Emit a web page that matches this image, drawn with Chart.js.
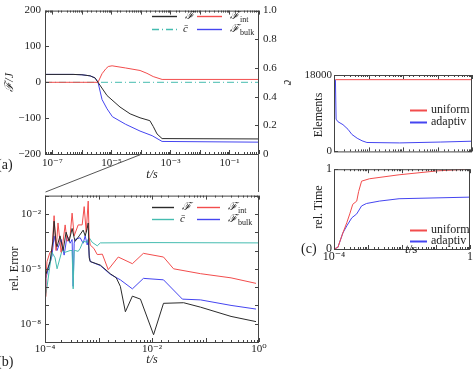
<!DOCTYPE html>
<html>
<head>
<meta charset="utf-8">
<script src="https://cdn.jsdelivr.net/npm/chart.js@4.4.1/dist/chart.umd.min.js"></script>
<style>
body { margin: 0; background: #fff; width: 474px; height: 369px; position: relative; overflow: hidden; font-family: 'Liberation Serif', 'DejaVu Serif', serif; color: #222; }
canvas { position: absolute; }
.lbl { position: absolute; font-size: 14px; white-space: nowrap; }
.rot { position: absolute; width: 70px; height: 14px; line-height: 14px; text-align: center; font-size: 12px; transform: rotate(-90deg); }
svg { position: absolute; left: 0; top: 0; pointer-events: none; }
</style>
</head>
<body>
<canvas id="ca" width="296" height="185" style="left:0;top:0"></canvas>
<canvas id="cb" width="290" height="184" style="left:0;top:185px"></canvas>
<canvas id="cc1" width="184" height="100" style="left:290px;top:60px"></canvas>
<canvas id="cc2" width="184" height="109" style="left:290px;top:160px"></canvas>

<div class="lbl" style="left:-3px;top:157px">(a)</div>
<div class="lbl" style="left:-3px;top:354px">(b)</div>
<div class="lbl" style="left:301px;top:241px">(c)</div>
<div class="lbl" style="left:405px;top:241px;font-size:13px"><i>t</i>/s</div>
<div class="rot" style="left:283px;top:108px">Elements</div>
<div class="rot" style="left:283px;top:200px">rel. Time</div>

<svg width="474" height="369">
  <line x1="142" y1="154" x2="45.5" y2="192" stroke="#555" stroke-width="1"/>
  <line x1="258.5" y1="154" x2="258.5" y2="192" stroke="#555" stroke-width="1"/>
</svg>

<script>
// (a) free energy over time
var aTimeF = [5.6e-8, 5e-7, 1e-6, 1.9e-6, 2.8e-6, 3.5e-6, 7.1e-6, 1.95e-5, 4.3e-5, 9.3e-5, 2.0e-4, 2.6e-4, 3.5e-4, 5.2e-4, 1];
var aF = [22, 22, 21, 18, 12, 0, -37, -69, -88, -99, -107, -123, -144, -157, -158];
var aTimeInt = [5.6e-8, 3.5e-6, 4.8e-6, 6.5e-6, 7.8e-6, 1.05e-5, 3e-5, 9.3e-5, 1.6e-4, 2.6e-4, 5.2e-4, 1];
var aFint = [0, 0, 24, 38, 44, 46, 40, 33, 25, 16, 8, 8];
var aTimeBulk = [5.6e-8, 5e-7, 1e-6, 1.9e-6, 2.8e-6, 3.5e-6, 4.8e-6, 7.1e-6, 1.08e-5, 3.0e-5, 9.3e-5, 2.4e-4, 5.2e-4, 1];
var aFbulk = [22, 22, 21, 18, 12, 0, -48, -74, -96, -117, -136, -149, -165, -167];
var aTimeC = [5.6e-8, 1];
var aC = [0.5, 0.5];
var aTickExp = [-7, -5, -3, -1];

// (b) relative errors
var bTimeF = [1.04e-4, 1.24e-4, 1.40e-4, 1.48e-4, 1.61e-4, 1.68e-4, 1.91e-4, 2.18e-4, 2.48e-4, 2.82e-4, 3.21e-4, 3.51e-4, 3.66e-4, 4.35e-4, 5.17e-4, 5.64e-4, 6.15e-4, 6.42e-4, 6.70e-4, 7.0e-4, 1.08e-3, 1.66e-3, 2.15e-3, 2.56e-3, 3.18e-3, 4.30e-3, 6.08e-3, 1.07e-2, 1.64e-2, 3.9e-2, 8.1e-2, 0.30, 0.88];
var bF = [5e-6, 2.5e-5, 3e-4, 4e-3, 2.5e-4, 1.6e-4, 6.3e-4, 1e-4, 1e-3, 3.2e-4, 1.6e-3, 5e-4, 3.2e-4, 6.3e-4, 1.3e-3, 6.3e-4, 1.6e-3, 3.2e-3, 4e-5, 2.5e-5, 1.6e-5, 5.4e-6, 3.2e-6, 1.1e-6, 4.5e-8, 3.2e-7, 2.2e-7, 2.5e-9, 1.3e-7, 1.4e-7, 8e-8, 2.5e-8, 1.3e-8];
var bTimeInt = [1.0e-4, 1.04e-4, 1.09e-4, 1.24e-4, 1.35e-4, 1.48e-4, 1.61e-4, 1.75e-4, 2.0e-4, 2.18e-4, 2.38e-4, 2.59e-4, 2.95e-4, 3.21e-4, 3.51e-4, 4.17e-4, 4.95e-4, 5.40e-4, 5.89e-4, 6.42e-4, 6.70e-4, 7.0e-4, 8.2e-4, 9.48e-4, 1.18e-3, 1.52e-3, 2.34e-3, 4.3e-3, 6.9e-3, 1.64e-2, 2.53e-2, 8.1e-2, 0.30, 0.88];
var bFint = [3e-7, 3e-6, 2.5e-5, 8e-5, 1e-4, 8e-3, 1e-4, 3.2e-3, 8e-5, 3.2e-4, 2.5e-3, 3.2e-4, 6.3e-4, 1.1e-2, 6.3e-4, 2.5e-3, 2.5e-3, 2.5e-2, 1e-3, 5e-2, 5e-4, 2e-4, 1.3e-4, 6e-5, 6.3e-5, 9e-6, 4.4e-5, 1.9e-5, 7e-5, 4.4e-5, 1e-5, 5.4e-6, 3.2e-6, 1.6e-6];
var bTimeBulk = [1.0e-4, 1.04e-4, 1.15e-4, 1.35e-4, 1.48e-4, 1.68e-4, 2.0e-4, 2.28e-4, 2.59e-4, 2.95e-4, 3.21e-4, 3.36e-4, 3.51e-4, 3.66e-4, 4.54e-4, 5.17e-4, 5.64e-4, 6.15e-4, 6.42e-4, 6.70e-4, 7.0e-4, 1.08e-3, 1.66e-3, 2.56e-3, 4.3e-3, 6.92e-3, 1.64e-2, 3.7e-2, 8.1e-2, 0.30, 0.88];
var bFbulk = [5e-7, 3e-6, 1e-5, 5e-5, 6.3e-4, 1e-4, 4e-4, 5.6e-5, 6.3e-4, 2.5e-4, 4e-4, 1.1e-6, 2.5e-4, 4e-4, 5e-4, 2.5e-4, 6.3e-4, 2e-4, 4e-4, 5.6e-5, 2.5e-5, 1.5e-5, 5e-6, 2.5e-6, 8e-7, 3e-6, 2.5e-6, 2.2e-7, 2e-7, 1e-7, 6.3e-8];
var bTimeC = [1.0e-4, 1.09e-4, 1.24e-4, 1.35e-4, 1.54e-4, 1.68e-4, 2.08e-4, 2.38e-4, 2.95e-4, 3.21e-4, 3.36e-4, 3.51e-4, 3.66e-4, 4.17e-4, 4.54e-4, 5.17e-4, 6.15e-4, 6.70e-4, 7.63e-4, 9.48e-4, 1.08e-3, 1e-2, 1];
var bC = [2e-7, 1e-6, 1.6e-5, 8e-5, 4e-5, 1e-5, 1e-4, 8e-5, 1e-4, 1e-4, 8e-7, 1e-4, 1e-4, 9e-5, 1.3e-4, 3.2e-4, 2.8e-4, 5e-4, 2.8e-4, 1.8e-4, 2.6e-4, 2.7e-4, 2.6e-4];
var bTickExpX = [-4, -2, 0];
var bTickExpY = [-2, -5, -8];

// (c) elements and relative computing time
var cTimeElemUni = [1.1e-4, 1];
var cElemUni = [16900, 16900];
var cTimeElemAd = [1.1e-4, 1.15e-4, 1.3e-4, 1.82e-4, 2.55e-4, 3.3e-4, 4.7e-4, 6.5e-4, 9e-4, 8e-3, 0.12, 1];
var cElemAd = [16900, 7600, 7000, 6300, 5200, 4000, 3100, 2500, 2100, 2000, 2200, 2400];
var cTimeRelUni = [1e-4, 1.3e-4, 1.82e-4, 2.38e-4, 2.91e-4, 3.56e-4, 4.66e-4, 5.3e-4, 6.48e-4, 1.1e-3, 8.2e-3, 0.117, 0.87, 1];
var cRelUni = [0, 0.02, 0.2, 0.33, 0.44, 0.56, 0.6, 0.72, 0.85, 0.88, 0.93, 0.98, 1.0, 1.0];
var cTimeRelAd = [1e-4, 1.3e-4, 1.82e-4, 2.38e-4, 3.33e-4, 4.66e-4, 6.48e-4, 9e-4, 2.15e-3, 8.2e-3, 1];
var cRelAd = [0, 0.02, 0.2, 0.29, 0.39, 0.44, 0.54, 0.57, 0.6, 0.63, 0.65];
var cTickExp = [-4, 0];

var SERIF = "'Liberation Serif', 'DejaVu Serif', serif";
Chart.defaults.font.family = SERIF;
Chart.defaults.font.size = 11;
Chart.defaults.color = '#222';

var BLACK = '#2b2b2b', RED = '#f24d4d', BLUE = '#4545f0', TEAL = '#45bcb0';

function pts(xs, ys) {
  return xs.map(function (x, i) { return { x: x, y: ys[i] }; });
}

var SUP = { '-': '\u207b', '0': '\u2070', '1': '\u00b9', '2': '\u00b2', '3': '\u00b3', '4': '\u2074', '5': '\u2075', '6': '\u2076', '7': '\u2077', '8': '\u2078', '9': '\u2079' };
function isDecade(v) {
  var l = Math.log10(v);
  return Math.abs(l - Math.round(l)) < 1e-6;
}
function powLabels(list, oneAsPlain) {
  return function (v) {
    if (!isDecade(v)) return '';
    var e = Math.round(Math.log10(v));
    if (list.indexOf(e) < 0) return '';
    if (e === 0 && oneAsPlain) return '1';
    return '10' + String(e).split('').map(function (c) { return SUP[c]; }).join('');
  };
}

// box round the plot area plus inward tick marks
var frame = {
  id: 'frame',
  afterDraw: function (chart, args, opts) {
    var ctx = chart.ctx, a = chart.chartArea;
    ctx.save();
    ctx.strokeStyle = '#444';
    ctx.lineWidth = 1;
    ctx.strokeRect(a.left + 0.5, a.top + 0.5, a.right - a.left - 1, a.bottom - a.top);
    Object.keys(chart.scales).forEach(function (id) {
      var s = chart.scales[id];
      var log = s.type === 'logarithmic';
      s.ticks.forEach(function (t, i) {
        var p = Math.round(s.getPixelForTick(i)) + 0.5;
        var len = (!log || isDecade(t.value)) ? 4 : 2;
        ctx.beginPath();
        if (s.isHorizontal()) {
          ctx.moveTo(p, a.bottom); ctx.lineTo(p, a.bottom - len);
          ctx.moveTo(p, a.top); ctx.lineTo(p, a.top + len);
        } else {
          if (s.position === 'left' || opts.mirror) { ctx.moveTo(a.left, p); ctx.lineTo(a.left + len, p); }
          if (s.position === 'right' || opts.mirror) { ctx.moveTo(a.right, p); ctx.lineTo(a.right - len, p); }
        }
        ctx.stroke();
      });
    });
    ctx.restore();
  }
};

// hand placed legend entries: line sample, then label with optional subscript
var keys = {
  id: 'keys',
  afterDraw: function (chart, args, opts) {
    var ctx = chart.ctx;
    (opts.items || []).forEach(function (it) {
      var ds = chart.data.datasets[it.ds];
      ctx.save();
      ctx.strokeStyle = ds.borderColor;
      ctx.lineWidth = it.w || 1.4;
      ctx.setLineDash(ds.borderDash || []);
      ctx.beginPath();
      ctx.moveTo(it.x, it.y + 0.5);
      ctx.lineTo(it.x + it.len, it.y + 0.5);
      ctx.stroke();
      ctx.setLineDash([]);
      ctx.fillStyle = '#222';
      ctx.textBaseline = 'middle';
      ctx.font = (ds.italic ? 'italic ' : '') + (it.size || 11) + 'px ' + SERIF;
      var tx = it.x + it.len + (it.gap || 4);
      ctx.fillText(ds.label, tx, it.y);
      if (ds.sub) {
        var wd = ctx.measureText(ds.label).width;
        ctx.font = '8px ' + SERIF;
        ctx.fillText(ds.sub, tx + wd + 1, it.y + 4);
      }
      ctx.restore();
    });
  }
};

function common(pad) {
  return {
    responsive: false,
    animation: false,
    devicePixelRatio: 1,
    layout: { padding: pad, autoPadding: false },
    elements: { point: { radius: 0 }, line: { borderWidth: 1, tension: 0 } },
    plugins: { legend: { display: false }, tooltip: { enabled: false } }
  };
}
var NOGRID = { display: false, drawTicks: false };

// (a)
var optA = common({ top: 4, left: 0, right: 0, bottom: 0 });
optA.plugins.frame = { mirror: false };
optA.plugins.keys = { items: [
  { ds: 0, x: 152, y: 16, len: 25, gap: 8 }, { ds: 1, x: 197, y: 16, len: 25, gap: 8 },
  { ds: 2, x: 152, y: 29, len: 25, gap: 6 }, { ds: 3, x: 197, y: 29, len: 25, gap: 8 }
] };
optA.scales = {
  x: { type: 'logarithmic', min: 5.6e-8, max: 1, grid: NOGRID, border: { display: false },
       ticks: { autoSkip: false, maxRotation: 0, padding: 3, callback: powLabels(aTickExp) },
       title: { display: true, text: 't/s', font: { style: 'italic', size: 12 }, padding: { top: 0, bottom: 3 } },
       afterFit: function (s) { s.height = 31; } },
  y: { min: -200, max: 200, grid: NOGRID, border: { display: false },
       ticks: { stepSize: 100, padding: 4, callback: function (v) { return v < 0 ? '\u2212' + (-v) : '' + v; } },
       title: { display: true, text: '\u2131/J', font: { style: 'italic', size: 12 }, padding: { top: 3, bottom: 0 } },
       afterFit: function (s) { s.width = 45; } },
  y1: { position: 'right', min: 0, max: 1, grid: NOGRID, border: { display: false },
        ticks: { stepSize: 0.2, padding: 4 },
        title: { display: true, text: 'c\u0304', font: { style: 'italic', size: 12 }, padding: { top: 2, bottom: 2 } },
        afterFit: function (s) { s.width = 37; } }
};
new Chart(document.getElementById('ca'), {
  type: 'line',
  data: { datasets: [
    { label: '\u2131', data: pts(aTimeF, aF), borderColor: BLACK, yAxisID: 'y', italic: true },
    { label: '\u2131', sub: 'int', data: pts(aTimeInt, aFint), borderColor: RED, yAxisID: 'y', italic: true },
    { label: 'c\u0304', data: pts(aTimeC, aC), borderColor: TEAL, borderDash: [7, 3, 1, 3], yAxisID: 'y1', italic: true },
    { label: '\u2131', sub: 'bulk', data: pts(aTimeBulk, aFbulk), borderColor: BLUE, yAxisID: 'y', italic: true }
  ] },
  options: optA,
  plugins: [frame, keys]
});

// (b)
var optB = common({ top: 7, left: 0, right: 31, bottom: 0 });
optB.plugins.frame = { mirror: true };
optB.plugins.keys = { items: [
  { ds: 0, x: 152, y: 22, len: 22, gap: 8 }, { ds: 1, x: 197, y: 22, len: 23, gap: 8 },
  { ds: 2, x: 152, y: 34, len: 22, gap: 6 }, { ds: 3, x: 197, y: 34, len: 23, gap: 8 }
] };
optB.scales = {
  x: { type: 'logarithmic', min: 1e-4, max: 1, grid: NOGRID, border: { display: false },
       ticks: { autoSkip: false, maxRotation: 0, padding: 1, callback: powLabels(bTickExpX) },
       title: { display: true, text: 't/s', font: { style: 'italic', size: 12 }, padding: { top: 0, bottom: 2 } },
       afterFit: function (s) { s.height = 27; } },
  y: { type: 'logarithmic', min: 1e-9, max: 1e-1, grid: NOGRID, border: { display: false },
       ticks: { autoSkip: false, padding: 4, callback: powLabels(bTickExpY) },
       afterBuildTicks: function (s) { s.ticks = s.ticks.filter(function (t) { return isDecade(t.value); }); },
       title: { display: true, text: 'rel. Error', font: { size: 12 }, padding: { top: 8, bottom: 0 } },
       afterFit: function (s) { s.width = 45; } }
};
new Chart(document.getElementById('cb'), {
  type: 'line',
  data: { datasets: [
    { label: '\u2131', data: pts(bTimeF, bF), borderColor: BLACK, italic: true },
    { label: '\u2131', sub: 'int', data: pts(bTimeInt, bFint), borderColor: RED, italic: true },
    { label: 'c\u0304', data: pts(bTimeC, bC), borderColor: TEAL, italic: true },
    { label: '\u2131', sub: 'bulk', data: pts(bTimeBulk, bFbulk), borderColor: BLUE, italic: true }
  ] },
  options: optB,
  plugins: [frame, keys]
});

// (c) top: number of elements
var optC1 = common({ top: 15, left: 0, right: 2, bottom: 0 });
optC1.plugins.frame = { mirror: true };
optC1.plugins.keys = { items: [
  { ds: 0, x: 120, y: 50, len: 17, w: 2, size: 12 }, { ds: 1, x: 120, y: 62, len: 17, w: 2, size: 12 }
] };
optC1.scales = {
  x: { type: 'logarithmic', min: 1e-4, max: 1, grid: NOGRID, border: { display: false },
       ticks: { display: false, autoSkip: false },
       afterFit: function (s) { s.height = 4; } },
  y: { min: 0, max: 18000, grid: NOGRID, border: { display: false },
       ticks: { padding: 2, callback: function (v) { return '' + v; } },
       afterBuildTicks: function (s) { s.ticks = [{ value: 0 }, { value: 18000 }]; },
       afterFit: function (s) { s.width = 44; } }
};
new Chart(document.getElementById('cc1'), {
  type: 'line',
  data: { datasets: [
    { label: 'uniform', data: pts(cTimeElemUni, cElemUni), borderColor: RED },
    { label: 'adaptiv', data: pts(cTimeElemAd, cElemAd), borderColor: BLUE }
  ] },
  options: optC1,
  plugins: [frame, keys]
});

// (c) bottom: relative computing time
var optC2 = common({ top: 7, left: 0, right: 2, bottom: 0 });
optC2.plugins.frame = { mirror: true };
optC2.plugins.keys = { items: [
  { ds: 0, x: 120, y: 70, len: 17, w: 2, size: 12 }, { ds: 1, x: 120, y: 81, len: 17, w: 2, size: 12 }
] };
optC2.scales = {
  x: { type: 'logarithmic', min: 1e-4, max: 1, grid: NOGRID, border: { display: false },
       ticks: { autoSkip: false, maxRotation: 0, padding: 1, font: { size: 12 }, callback: powLabels(cTickExp, true) },
       afterFit: function (s) { s.height = 20; } },
  y: { min: 0, max: 1, grid: NOGRID, border: { display: false },
       ticks: { padding: 2, font: { size: 12 } },
       afterBuildTicks: function (s) { s.ticks = [{ value: 0 }, { value: 1 }]; },
       afterFit: function (s) { s.width = 44; } }
};
new Chart(document.getElementById('cc2'), {
  type: 'line',
  data: { datasets: [
    { label: 'uniform', data: pts(cTimeRelUni, cRelUni), borderColor: RED },
    { label: 'adaptiv', data: pts(cTimeRelAd, cRelAd), borderColor: BLUE }
  ] },
  options: optC2,
  plugins: [frame, keys]
});
</script>
</body>
</html>
